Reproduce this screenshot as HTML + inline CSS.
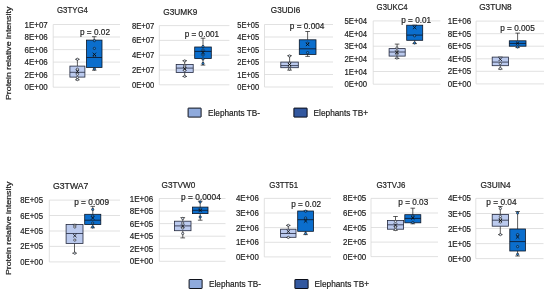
<!DOCTYPE html>
<html><head><meta charset="utf-8"><title>Protein relative intensity</title>
<style>
html,body{margin:0;padding:0;background:#fff;}
svg{display:block;font-family:"Liberation Sans",sans-serif;fill:#1c1c1c;}
text{stroke:#1c1c1c;stroke-width:0.2px;}
</style></head>
<body>
<svg width="550" height="294" viewBox="0 0 550 294">
<rect width="550" height="294" fill="#fff"/>
<g>
<text x="24.6" y="27.5" font-size="8.9" textLength="23.2" lengthAdjust="spacingAndGlyphs" text-anchor="start">1E+07</text>
<text x="24.6" y="40.0" font-size="8.9" textLength="23.2" lengthAdjust="spacingAndGlyphs" text-anchor="start">8E+06</text>
<text x="24.6" y="52.6" font-size="8.9" textLength="23.2" lengthAdjust="spacingAndGlyphs" text-anchor="start">6E+06</text>
<text x="24.6" y="65.1" font-size="8.9" textLength="23.2" lengthAdjust="spacingAndGlyphs" text-anchor="start">4E+06</text>
<text x="24.6" y="77.7" font-size="8.9" textLength="23.2" lengthAdjust="spacingAndGlyphs" text-anchor="start">2E+06</text>
<text x="24.6" y="90.2" font-size="8.9" textLength="23.2" lengthAdjust="spacingAndGlyphs" text-anchor="start">0E+00</text>
<path d="M53.2 24.5H120.0M53.2 37.0H120.0M53.2 49.6H120.0M53.2 62.1H120.0M53.2 74.7H120.0M53.2 87.2H120.0M53.2 24.5V87.2" stroke="#d9d9d9" stroke-width="0.8" fill="none"/>
<text x="57.0" y="13.3" font-size="8.9" textLength="30.8" lengthAdjust="spacingAndGlyphs" text-anchor="start">G3TYG4</text>
<g stroke="#23283d" stroke-width="0.8" fill="none">
<path d="M77.4 59.3V66.1M77.4 77.1V79.8M75.1 59.3H79.7M75.1 79.8H79.7" stroke="#1a1a1a" stroke-width="0.7"/>
<rect x="69.9" y="66.1" width="15.0" height="11.0" fill="#bbcaee"/>
<path d="M69.9 72.3H84.9"/>
<circle cx="77.4" cy="59.3" r="1.15" stroke="#101010" stroke-width="0.6" fill="#dfe8f7"/>
<circle cx="77.4" cy="69.2" r="1.15" stroke="#101010" stroke-width="0.6" fill="#dfe8f7"/>
<circle cx="77.4" cy="74.3" r="1.15" stroke="#101010" stroke-width="0.6" fill="#dfe8f7"/>
<circle cx="77.4" cy="77.5" r="1.15" stroke="#101010" stroke-width="0.6" fill="#dfe8f7"/>
<circle cx="77.4" cy="79.6" r="1.15" stroke="#101010" stroke-width="0.6" fill="#dfe8f7"/>
<path d="M75.7 69.8L79.1 73.2M75.7 73.2L79.1 69.8" stroke="#0a0a0a" stroke-width="0.8"/>
</g>
<g stroke="#0c1424" stroke-width="0.8" fill="none">
<path d="M94.2 36.7V40.1M94.2 67.4V70.2M92.0 36.7H96.5M92.0 70.2H96.5" stroke="#1a1a1a" stroke-width="0.7"/>
<rect x="86.5" y="40.1" width="15.5" height="27.3" fill="#0b6ecd"/>
<path d="M86.5 57.5H102.0"/>
<circle cx="94.4" cy="40.6" r="1.15" stroke="#101010" stroke-width="0.6" fill="#2a86dd"/>
<circle cx="94.4" cy="48.4" r="1.15" stroke="#101010" stroke-width="0.6" fill="#2a86dd"/>
<circle cx="94.4" cy="56.0" r="1.15" stroke="#101010" stroke-width="0.6" fill="#2a86dd"/>
<circle cx="94.4" cy="69.0" r="1.15" stroke="#101010" stroke-width="0.6" fill="#2a86dd"/>
<path d="M92.7 52.7L96.1 56.1M92.7 56.1L96.1 52.7" stroke="#0a0a0a" stroke-width="0.8"/>
</g>
<text x="80.0" y="34.5" font-size="9.2" textLength="30.0" lengthAdjust="spacingAndGlyphs" text-anchor="start">p = 0.02</text>
</g>
<g>
<text x="132.0" y="28.6" font-size="8.9" textLength="22.3" lengthAdjust="spacingAndGlyphs" text-anchor="start">8E+07</text>
<text x="132.0" y="43.4" font-size="8.9" textLength="22.3" lengthAdjust="spacingAndGlyphs" text-anchor="start">6E+07</text>
<text x="132.0" y="58.2" font-size="8.9" textLength="22.3" lengthAdjust="spacingAndGlyphs" text-anchor="start">4E+07</text>
<text x="132.0" y="73.0" font-size="8.9" textLength="22.3" lengthAdjust="spacingAndGlyphs" text-anchor="start">2E+07</text>
<text x="132.0" y="87.8" font-size="8.9" textLength="22.3" lengthAdjust="spacingAndGlyphs" text-anchor="start">0E+00</text>
<path d="M159.3 25.6H229.4M159.3 40.4H229.4M159.3 55.2H229.4M159.3 70.0H229.4M159.3 84.8H229.4M159.3 25.6V84.8" stroke="#d9d9d9" stroke-width="0.8" fill="none"/>
<text x="163.2" y="15.0" font-size="8.9" textLength="34.1" lengthAdjust="spacingAndGlyphs" text-anchor="start">G3UMK9</text>
<g stroke="#23283d" stroke-width="0.8" fill="none">
<path d="M184.7 60.7V64.5M184.7 72.5V76.5M182.4 60.7H187.0M182.4 76.5H187.0" stroke="#1a1a1a" stroke-width="0.7"/>
<rect x="176.2" y="64.5" width="17.0" height="8.0" fill="#bbcaee"/>
<path d="M176.2 68.1H193.2"/>
<circle cx="184.7" cy="60.9" r="1.15" stroke="#101010" stroke-width="0.6" fill="#dfe8f7"/>
<circle cx="184.7" cy="65.5" r="1.15" stroke="#101010" stroke-width="0.6" fill="#dfe8f7"/>
<circle cx="184.7" cy="67.0" r="1.15" stroke="#101010" stroke-width="0.6" fill="#dfe8f7"/>
<circle cx="184.7" cy="70.5" r="1.15" stroke="#101010" stroke-width="0.6" fill="#dfe8f7"/>
<circle cx="184.7" cy="76.3" r="1.15" stroke="#101010" stroke-width="0.6" fill="#dfe8f7"/>
<path d="M183.0 67.1L186.4 70.5M183.0 70.5L186.4 67.1" stroke="#0a0a0a" stroke-width="0.8"/>
</g>
<g stroke="#0c1424" stroke-width="0.8" fill="none">
<path d="M203.0 38.2V47.0M203.0 58.5V65.1M200.7 38.2H205.3M200.7 65.1H205.3" stroke="#1a1a1a" stroke-width="0.7"/>
<rect x="194.7" y="47.0" width="16.6" height="11.5" fill="#0b6ecd"/>
<path d="M194.7 51.4H211.3"/>
<circle cx="203.0" cy="46.5" r="1.15" stroke="#101010" stroke-width="0.6" fill="#2a86dd"/>
<circle cx="203.0" cy="50.0" r="1.15" stroke="#101010" stroke-width="0.6" fill="#2a86dd"/>
<circle cx="203.0" cy="55.0" r="1.15" stroke="#101010" stroke-width="0.6" fill="#2a86dd"/>
<circle cx="203.0" cy="59.0" r="1.15" stroke="#101010" stroke-width="0.6" fill="#2a86dd"/>
<circle cx="203.0" cy="63.5" r="1.15" stroke="#101010" stroke-width="0.6" fill="#2a86dd"/>
<path d="M201.3 50.8L204.7 54.2M201.3 54.2L204.7 50.8" stroke="#0a0a0a" stroke-width="0.8"/>
</g>
<text x="184.8" y="37.0" font-size="9.2" textLength="34.2" lengthAdjust="spacingAndGlyphs" text-anchor="start">p = 0.001</text>
</g>
<g>
<text x="237.3" y="27.5" font-size="8.9" textLength="21.8" lengthAdjust="spacingAndGlyphs" text-anchor="start">5E+05</text>
<text x="237.3" y="40.0" font-size="8.9" textLength="21.8" lengthAdjust="spacingAndGlyphs" text-anchor="start">4E+05</text>
<text x="237.3" y="52.5" font-size="8.9" textLength="21.8" lengthAdjust="spacingAndGlyphs" text-anchor="start">3E+05</text>
<text x="237.3" y="65.0" font-size="8.9" textLength="21.8" lengthAdjust="spacingAndGlyphs" text-anchor="start">2E+05</text>
<text x="237.3" y="77.5" font-size="8.9" textLength="21.8" lengthAdjust="spacingAndGlyphs" text-anchor="start">1E+05</text>
<text x="237.3" y="90.0" font-size="8.9" textLength="21.8" lengthAdjust="spacingAndGlyphs" text-anchor="start">0E+00</text>
<path d="M264.5 24.5H333.0M264.5 37.0H333.0M264.5 49.5H333.0M264.5 62.0H333.0M264.5 74.5H333.0M264.5 87.0H333.0M264.5 24.5V87.0" stroke="#d9d9d9" stroke-width="0.8" fill="none"/>
<text x="270.8" y="13.4" font-size="8.9" textLength="29.5" lengthAdjust="spacingAndGlyphs" text-anchor="start">G3UDI6</text>
<g stroke="#23283d" stroke-width="0.8" fill="none">
<path d="M289.6 55.7V62.1M289.6 67.7V70.1M287.2 55.7H291.9M287.2 70.1H291.9" stroke="#1a1a1a" stroke-width="0.7"/>
<rect x="280.8" y="62.1" width="17.5" height="5.6" fill="#bbcaee"/>
<path d="M280.8 65.6H298.3"/>
<circle cx="289.5" cy="55.9" r="1.15" stroke="#101010" stroke-width="0.6" fill="#dfe8f7"/>
<circle cx="289.5" cy="63.3" r="1.15" stroke="#101010" stroke-width="0.6" fill="#dfe8f7"/>
<circle cx="289.5" cy="66.0" r="1.15" stroke="#101010" stroke-width="0.6" fill="#dfe8f7"/>
<circle cx="289.5" cy="69.0" r="1.15" stroke="#101010" stroke-width="0.6" fill="#dfe8f7"/>
<path d="M287.8 62.8L291.2 66.2M287.8 66.2L291.2 62.8" stroke="#0a0a0a" stroke-width="0.8"/>
</g>
<g stroke="#0c1424" stroke-width="0.8" fill="none">
<path d="M307.6 31.5V39.8M307.6 54.4V56.4M305.3 31.5H309.9M305.3 56.4H309.9" stroke="#1a1a1a" stroke-width="0.7"/>
<rect x="299.3" y="39.8" width="16.7" height="14.6" fill="#0b6ecd"/>
<path d="M299.3 48.8H316.0"/>
<circle cx="307.6" cy="43.2" r="1.15" stroke="#101010" stroke-width="0.6" fill="#2a86dd"/>
<circle cx="307.6" cy="52.6" r="1.15" stroke="#101010" stroke-width="0.6" fill="#2a86dd"/>
<path d="M305.9 42.7L309.3 46.1M305.9 46.1L309.3 42.7" stroke="#0a0a0a" stroke-width="0.8"/>
</g>
<text x="289.8" y="29.2" font-size="9.2" textLength="34.6" lengthAdjust="spacingAndGlyphs" text-anchor="start">p = 0.004</text>
</g>
<g>
<text x="344.6" y="23.9" font-size="8.9" textLength="22.4" lengthAdjust="spacingAndGlyphs" text-anchor="start">5E+04</text>
<text x="344.6" y="36.6" font-size="8.9" textLength="22.4" lengthAdjust="spacingAndGlyphs" text-anchor="start">4E+04</text>
<text x="344.6" y="49.2" font-size="8.9" textLength="22.4" lengthAdjust="spacingAndGlyphs" text-anchor="start">3E+04</text>
<text x="344.6" y="61.9" font-size="8.9" textLength="22.4" lengthAdjust="spacingAndGlyphs" text-anchor="start">2E+04</text>
<text x="344.6" y="74.5" font-size="8.9" textLength="22.4" lengthAdjust="spacingAndGlyphs" text-anchor="start">1E+04</text>
<text x="344.6" y="87.2" font-size="8.9" textLength="22.4" lengthAdjust="spacingAndGlyphs" text-anchor="start">0E+00</text>
<path d="M373.2 20.9H440.4M373.2 33.6H440.4M373.2 46.2H440.4M373.2 58.9H440.4M373.2 71.5H440.4M373.2 84.2H440.4M373.2 20.9V84.2" stroke="#d9d9d9" stroke-width="0.8" fill="none"/>
<text x="376.6" y="10.4" font-size="8.9" textLength="31.1" lengthAdjust="spacingAndGlyphs" text-anchor="start">G3UKC4</text>
<g stroke="#23283d" stroke-width="0.8" fill="none">
<path d="M397.1 44.1V48.6M397.1 56.1V58.5M394.8 44.1H399.4M394.8 58.5H399.4" stroke="#1a1a1a" stroke-width="0.7"/>
<rect x="389.1" y="48.6" width="16.1" height="7.5" fill="#bbcaee"/>
<path d="M389.1 52.0H405.2"/>
<circle cx="396.9" cy="48.0" r="1.15" stroke="#101010" stroke-width="0.6" fill="#dfe8f7"/>
<circle cx="396.9" cy="51.0" r="1.15" stroke="#101010" stroke-width="0.6" fill="#dfe8f7"/>
<circle cx="396.9" cy="54.0" r="1.15" stroke="#101010" stroke-width="0.6" fill="#dfe8f7"/>
<circle cx="396.9" cy="58.0" r="1.15" stroke="#101010" stroke-width="0.6" fill="#dfe8f7"/>
<path d="M395.2 50.7L398.6 54.1M395.2 54.1L398.6 50.7" stroke="#0a0a0a" stroke-width="0.8"/>
</g>
<g stroke="#0c1424" stroke-width="0.8" fill="none">
<path d="M414.7 25.2V25.2M414.7 40.3V43.6M412.4 25.2H417.0M412.4 43.6H417.0" stroke="#1a1a1a" stroke-width="0.7"/>
<rect x="406.7" y="25.2" width="16.0" height="15.1" fill="#0b6ecd"/>
<path d="M406.7 35.1H422.7"/>
<circle cx="414.6" cy="35.8" r="1.15" stroke="#101010" stroke-width="0.6" fill="#2a86dd"/>
<circle cx="414.6" cy="43.0" r="1.15" stroke="#101010" stroke-width="0.6" fill="#2a86dd"/>
<path d="M412.9 25.8L416.3 29.2M412.9 29.2L416.3 25.8" stroke="#0a0a0a" stroke-width="0.8"/>
</g>
<text x="401.3" y="23.4" font-size="9.2" textLength="29.8" lengthAdjust="spacingAndGlyphs" text-anchor="start">p = 0.01</text>
</g>
<g>
<text x="447.8" y="24.1" font-size="8.9" textLength="23.3" lengthAdjust="spacingAndGlyphs" text-anchor="start">1E+06</text>
<text x="447.8" y="36.7" font-size="8.9" textLength="23.3" lengthAdjust="spacingAndGlyphs" text-anchor="start">8E+05</text>
<text x="447.8" y="49.2" font-size="8.9" textLength="23.3" lengthAdjust="spacingAndGlyphs" text-anchor="start">6E+05</text>
<text x="447.8" y="61.8" font-size="8.9" textLength="23.3" lengthAdjust="spacingAndGlyphs" text-anchor="start">4E+05</text>
<text x="447.8" y="74.3" font-size="8.9" textLength="23.3" lengthAdjust="spacingAndGlyphs" text-anchor="start">2E+05</text>
<text x="447.8" y="86.9" font-size="8.9" textLength="23.3" lengthAdjust="spacingAndGlyphs" text-anchor="start">0E+00</text>
<path d="M476.1 21.1H544.0M476.1 33.7H544.0M476.1 46.2H544.0M476.1 58.8H544.0M476.1 71.3H544.0M476.1 83.9H544.0M476.1 21.1V83.9" stroke="#d9d9d9" stroke-width="0.8" fill="none"/>
<text x="479.2" y="10.4" font-size="8.9" textLength="32.5" lengthAdjust="spacingAndGlyphs" text-anchor="start">G3TUN8</text>
<g stroke="#23283d" stroke-width="0.8" fill="none">
<path d="M500.3 57.1V57.1M500.3 65.7V69.1M498.0 57.1H502.6M498.0 69.1H502.6" stroke="#1a1a1a" stroke-width="0.7"/>
<rect x="492.2" y="57.1" width="16.2" height="8.6" fill="#bbcaee"/>
<path d="M492.2 62.1H508.4"/>
<circle cx="500.3" cy="63.5" r="1.15" stroke="#101010" stroke-width="0.6" fill="#dfe8f7"/>
<circle cx="500.3" cy="68.5" r="1.15" stroke="#101010" stroke-width="0.6" fill="#dfe8f7"/>
<path d="M498.6 57.6L502.0 61.0M498.6 61.0L502.0 57.6" stroke="#0a0a0a" stroke-width="0.8"/>
</g>
<g stroke="#0c1424" stroke-width="0.8" fill="none">
<path d="M517.6 33.1V40.8M517.6 46.2V47.6M515.4 33.1H519.9M515.4 47.6H519.9" stroke="#1a1a1a" stroke-width="0.7"/>
<rect x="509.3" y="40.8" width="16.7" height="5.4" fill="#0b6ecd"/>
<path d="M509.3 43.4H526.0"/>
<circle cx="517.6" cy="47.0" r="1.15" stroke="#101010" stroke-width="0.6" fill="#2a86dd"/>
<path d="M515.9 41.5L519.3 44.9M515.9 44.9L519.3 41.5" stroke="#0a0a0a" stroke-width="0.8"/>
</g>
<text x="500.2" y="30.9" font-size="9.2" textLength="34.6" lengthAdjust="spacingAndGlyphs" text-anchor="start">p = 0.005</text>
</g>
<g>
<text x="20.3" y="203.1" font-size="8.9" textLength="22.7" lengthAdjust="spacingAndGlyphs" text-anchor="start">8E+05</text>
<text x="20.3" y="218.5" font-size="8.9" textLength="22.7" lengthAdjust="spacingAndGlyphs" text-anchor="start">6E+05</text>
<text x="20.3" y="234.0" font-size="8.9" textLength="22.7" lengthAdjust="spacingAndGlyphs" text-anchor="start">4E+05</text>
<text x="20.3" y="249.4" font-size="8.9" textLength="22.7" lengthAdjust="spacingAndGlyphs" text-anchor="start">2E+05</text>
<text x="20.3" y="264.9" font-size="8.9" textLength="22.7" lengthAdjust="spacingAndGlyphs" text-anchor="start">0E+00</text>
<path d="M49.3 200.1H120.0M49.3 215.5H120.0M49.3 231.0H120.0M49.3 246.4H120.0M49.3 261.9H120.0M49.3 200.1V261.9" stroke="#d9d9d9" stroke-width="0.8" fill="none"/>
<text x="53.0" y="188.7" font-size="8.9" textLength="35.4" lengthAdjust="spacingAndGlyphs" text-anchor="start">G3TWA7</text>
<g stroke="#23283d" stroke-width="0.8" fill="none">
<path d="M74.5 224.4V224.4M74.5 243.4V253.2M72.2 224.4H76.8M72.2 253.2H76.8" stroke="#1a1a1a" stroke-width="0.7"/>
<rect x="66.1" y="224.4" width="16.9" height="19.0" fill="#bbcaee"/>
<path d="M66.1 233.5H83.0"/>
<circle cx="74.8" cy="225.3" r="1.15" stroke="#101010" stroke-width="0.6" fill="#dfe8f7"/>
<circle cx="74.8" cy="227.0" r="1.15" stroke="#101010" stroke-width="0.6" fill="#dfe8f7"/>
<circle cx="74.8" cy="240.1" r="1.15" stroke="#101010" stroke-width="0.6" fill="#dfe8f7"/>
<circle cx="74.8" cy="253.2" r="1.15" stroke="#101010" stroke-width="0.6" fill="#dfe8f7"/>
<path d="M73.1 234.0L76.5 237.4M73.1 237.4L76.5 234.0" stroke="#0a0a0a" stroke-width="0.8"/>
</g>
<g stroke="#0c1424" stroke-width="0.8" fill="none">
<path d="M92.8 206.4V214.3M92.8 224.5V227.8M90.5 206.4H95.0M90.5 227.8H95.0" stroke="#1a1a1a" stroke-width="0.7"/>
<rect x="84.7" y="214.3" width="16.1" height="10.2" fill="#0b6ecd"/>
<path d="M84.7 220.2H100.8"/>
<circle cx="92.7" cy="209.5" r="1.15" stroke="#101010" stroke-width="0.6" fill="#2a86dd"/>
<circle cx="92.7" cy="216.0" r="1.15" stroke="#101010" stroke-width="0.6" fill="#2a86dd"/>
<circle cx="92.7" cy="223.0" r="1.15" stroke="#101010" stroke-width="0.6" fill="#2a86dd"/>
<circle cx="92.7" cy="227.0" r="1.15" stroke="#101010" stroke-width="0.6" fill="#2a86dd"/>
<path d="M91.0 216.3L94.4 219.7M91.0 219.7L94.4 216.3" stroke="#0a0a0a" stroke-width="0.8"/>
</g>
<text x="74.2" y="205.4" font-size="9.2" textLength="34.9" lengthAdjust="spacingAndGlyphs" text-anchor="start">p = 0.009</text>
</g>
<g>
<text x="129.8" y="201.5" font-size="8.9" textLength="23.4" lengthAdjust="spacingAndGlyphs" text-anchor="start">1E+06</text>
<text x="129.8" y="214.1" font-size="8.9" textLength="23.4" lengthAdjust="spacingAndGlyphs" text-anchor="start">8E+05</text>
<text x="129.8" y="226.6" font-size="8.9" textLength="23.4" lengthAdjust="spacingAndGlyphs" text-anchor="start">6E+05</text>
<text x="129.8" y="239.2" font-size="8.9" textLength="23.4" lengthAdjust="spacingAndGlyphs" text-anchor="start">4E+05</text>
<text x="129.8" y="251.7" font-size="8.9" textLength="23.4" lengthAdjust="spacingAndGlyphs" text-anchor="start">2E+05</text>
<text x="129.8" y="264.3" font-size="8.9" textLength="23.4" lengthAdjust="spacingAndGlyphs" text-anchor="start">0E+00</text>
<path d="M159.3 198.5H225.5M159.3 211.1H225.5M159.3 223.6H225.5M159.3 236.2H225.5M159.3 248.7H225.5M159.3 261.3H225.5M159.3 198.5V261.3" stroke="#d9d9d9" stroke-width="0.8" fill="none"/>
<text x="161.5" y="187.8" font-size="8.9" textLength="33.8" lengthAdjust="spacingAndGlyphs" text-anchor="start">G3TVW0</text>
<g stroke="#23283d" stroke-width="0.8" fill="none">
<path d="M182.8 217.6V221.2M182.8 230.7V237.9M180.4 217.6H185.1M180.4 237.9H185.1" stroke="#1a1a1a" stroke-width="0.7"/>
<rect x="174.5" y="221.2" width="16.5" height="9.5" fill="#bbcaee"/>
<path d="M174.5 225.9H191.0"/>
<circle cx="182.7" cy="218.5" r="1.15" stroke="#101010" stroke-width="0.6" fill="#dfe8f7"/>
<circle cx="182.7" cy="223.0" r="1.15" stroke="#101010" stroke-width="0.6" fill="#dfe8f7"/>
<circle cx="182.7" cy="228.0" r="1.15" stroke="#101010" stroke-width="0.6" fill="#dfe8f7"/>
<circle cx="182.7" cy="233.5" r="1.15" stroke="#101010" stroke-width="0.6" fill="#dfe8f7"/>
<path d="M181.0 224.3L184.4 227.7M181.0 227.7L184.4 224.3" stroke="#0a0a0a" stroke-width="0.8"/>
</g>
<g stroke="#0c1424" stroke-width="0.8" fill="none">
<path d="M200.2 201.2V207.1M200.2 213.6V220.2M197.9 201.2H202.5M197.9 220.2H202.5" stroke="#1a1a1a" stroke-width="0.7"/>
<rect x="192.4" y="207.1" width="15.6" height="6.5" fill="#0b6ecd"/>
<path d="M192.4 210.3H208.0"/>
<circle cx="200.2" cy="202.0" r="1.15" stroke="#101010" stroke-width="0.6" fill="#2a86dd"/>
<circle cx="200.2" cy="209.0" r="1.15" stroke="#101010" stroke-width="0.6" fill="#2a86dd"/>
<circle cx="200.2" cy="217.0" r="1.15" stroke="#101010" stroke-width="0.6" fill="#2a86dd"/>
<path d="M198.5 208.8L201.9 212.2M198.5 212.2L201.9 208.8" stroke="#0a0a0a" stroke-width="0.8"/>
</g>
<text x="181.1" y="200.0" font-size="9.2" textLength="39.7" lengthAdjust="spacingAndGlyphs" text-anchor="start">p = 0.0004</text>
</g>
<g>
<text x="235.9" y="201.4" font-size="8.9" textLength="22.9" lengthAdjust="spacingAndGlyphs" text-anchor="start">4E+06</text>
<text x="235.9" y="216.0" font-size="8.9" textLength="22.9" lengthAdjust="spacingAndGlyphs" text-anchor="start">3E+06</text>
<text x="235.9" y="230.6" font-size="8.9" textLength="22.9" lengthAdjust="spacingAndGlyphs" text-anchor="start">2E+06</text>
<text x="235.9" y="245.3" font-size="8.9" textLength="22.9" lengthAdjust="spacingAndGlyphs" text-anchor="start">1E+06</text>
<text x="235.9" y="259.9" font-size="8.9" textLength="22.9" lengthAdjust="spacingAndGlyphs" text-anchor="start">0E+00</text>
<path d="M264.3 198.4H331.0M264.3 213.0H331.0M264.3 227.6H331.0M264.3 242.3H331.0M264.3 256.9H331.0M264.3 198.4V256.9" stroke="#d9d9d9" stroke-width="0.8" fill="none"/>
<text x="269.3" y="187.8" font-size="8.9" textLength="28.8" lengthAdjust="spacingAndGlyphs" text-anchor="start">G3TT51</text>
<g stroke="#23283d" stroke-width="0.8" fill="none">
<path d="M288.3 225.4V229.2M288.3 237.3V237.5M286.0 225.4H290.6M286.0 237.5H290.6" stroke="#1a1a1a" stroke-width="0.7"/>
<rect x="280.6" y="229.2" width="15.4" height="8.1" fill="#bbcaee"/>
<path d="M280.6 233.5H296.0"/>
<circle cx="288.3" cy="225.4" r="1.15" stroke="#101010" stroke-width="0.6" fill="#dfe8f7"/>
<circle cx="288.3" cy="237.4" r="1.15" stroke="#101010" stroke-width="0.6" fill="#dfe8f7"/>
<path d="M286.6 229.8L290.0 233.2M286.6 233.2L290.0 229.8" stroke="#0a0a0a" stroke-width="0.8"/>
</g>
<g stroke="#0c1424" stroke-width="0.8" fill="none">
<path d="M305.6 211.0V211.0M305.6 231.3V234.6M303.3 211.0H307.9M303.3 234.6H307.9" stroke="#1a1a1a" stroke-width="0.7"/>
<rect x="297.7" y="211.0" width="15.8" height="20.3" fill="#0b6ecd"/>
<path d="M297.7 219.7H313.5"/>
<circle cx="305.6" cy="211.2" r="1.15" stroke="#101010" stroke-width="0.6" fill="#2a86dd"/>
<circle cx="305.6" cy="218.0" r="1.15" stroke="#101010" stroke-width="0.6" fill="#2a86dd"/>
<circle cx="305.6" cy="233.5" r="1.15" stroke="#101010" stroke-width="0.6" fill="#2a86dd"/>
<path d="M303.9 219.3L307.3 222.7M303.9 222.7L307.3 219.3" stroke="#0a0a0a" stroke-width="0.8"/>
</g>
<text x="291.2" y="207.2" font-size="9.2" textLength="29.8" lengthAdjust="spacingAndGlyphs" text-anchor="start">p = 0.02</text>
</g>
<g>
<text x="343.1" y="201.4" font-size="8.9" textLength="23.1" lengthAdjust="spacingAndGlyphs" text-anchor="start">8E+05</text>
<text x="343.1" y="216.0" font-size="8.9" textLength="23.1" lengthAdjust="spacingAndGlyphs" text-anchor="start">6E+05</text>
<text x="343.1" y="230.5" font-size="8.9" textLength="23.1" lengthAdjust="spacingAndGlyphs" text-anchor="start">4E+05</text>
<text x="343.1" y="245.1" font-size="8.9" textLength="23.1" lengthAdjust="spacingAndGlyphs" text-anchor="start">2E+05</text>
<text x="343.1" y="259.6" font-size="8.9" textLength="23.1" lengthAdjust="spacingAndGlyphs" text-anchor="start">0E+00</text>
<path d="M371.0 198.4H438.0M371.0 213.0H438.0M371.0 227.5H438.0M371.0 242.1H438.0M371.0 256.6H438.0M371.0 198.4V256.6" stroke="#d9d9d9" stroke-width="0.8" fill="none"/>
<text x="376.5" y="187.8" font-size="8.9" textLength="28.8" lengthAdjust="spacingAndGlyphs" text-anchor="start">G3TVJ6</text>
<g stroke="#23283d" stroke-width="0.8" fill="none">
<path d="M395.5 216.5V220.4M395.5 229.2V230.3M393.2 216.5H397.8M393.2 230.3H397.8" stroke="#1a1a1a" stroke-width="0.7"/>
<rect x="387.4" y="220.4" width="16.2" height="8.8" fill="#bbcaee"/>
<path d="M387.4 224.8H403.6"/>
<circle cx="395.5" cy="221.5" r="1.15" stroke="#101010" stroke-width="0.6" fill="#dfe8f7"/>
<circle cx="395.5" cy="227.0" r="1.15" stroke="#101010" stroke-width="0.6" fill="#dfe8f7"/>
<circle cx="395.5" cy="229.5" r="1.15" stroke="#101010" stroke-width="0.6" fill="#dfe8f7"/>
<path d="M393.8 223.3L397.2 226.7M393.8 226.7L397.2 223.3" stroke="#0a0a0a" stroke-width="0.8"/>
</g>
<g stroke="#0c1424" stroke-width="0.8" fill="none">
<path d="M412.8 208.2V214.7M412.8 222.8V223.8M410.5 208.2H415.1M410.5 223.8H415.1" stroke="#1a1a1a" stroke-width="0.7"/>
<rect x="404.8" y="214.7" width="16.0" height="8.1" fill="#0b6ecd"/>
<path d="M404.8 218.4H420.8"/>
<circle cx="412.8" cy="216.0" r="1.15" stroke="#101010" stroke-width="0.6" fill="#2a86dd"/>
<circle cx="412.8" cy="222.5" r="1.15" stroke="#101010" stroke-width="0.6" fill="#2a86dd"/>
<path d="M411.1 216.3L414.5 219.7M411.1 219.7L414.5 216.3" stroke="#0a0a0a" stroke-width="0.8"/>
</g>
<text x="398.3" y="205.0" font-size="9.2" textLength="29.9" lengthAdjust="spacingAndGlyphs" text-anchor="start">p = 0.03</text>
</g>
<g>
<text x="447.9" y="201.4" font-size="8.9" textLength="23.1" lengthAdjust="spacingAndGlyphs" text-anchor="start">4E+05</text>
<text x="447.9" y="216.5" font-size="8.9" textLength="23.1" lengthAdjust="spacingAndGlyphs" text-anchor="start">3E+05</text>
<text x="447.9" y="231.5" font-size="8.9" textLength="23.1" lengthAdjust="spacingAndGlyphs" text-anchor="start">2E+05</text>
<text x="447.9" y="246.6" font-size="8.9" textLength="23.1" lengthAdjust="spacingAndGlyphs" text-anchor="start">1E+05</text>
<text x="447.9" y="261.6" font-size="8.9" textLength="23.1" lengthAdjust="spacingAndGlyphs" text-anchor="start">0E+00</text>
<path d="M475.8 198.4H543.5M475.8 213.5H543.5M475.8 228.5H543.5M475.8 243.6H543.5M475.8 258.6H543.5M475.8 198.4V258.6" stroke="#d9d9d9" stroke-width="0.8" fill="none"/>
<text x="480.6" y="187.8" font-size="8.9" textLength="30.1" lengthAdjust="spacingAndGlyphs" text-anchor="start">G3UIN4</text>
<g stroke="#23283d" stroke-width="0.8" fill="none">
<path d="M500.3 206.5V214.4M500.3 226.2V234.6M498.0 206.5H502.6M498.0 234.6H502.6" stroke="#1a1a1a" stroke-width="0.7"/>
<rect x="492.2" y="214.4" width="16.2" height="11.8" fill="#bbcaee"/>
<path d="M492.2 220.2H508.4"/>
<circle cx="500.4" cy="208.5" r="1.15" stroke="#101010" stroke-width="0.6" fill="#dfe8f7"/>
<circle cx="500.4" cy="216.5" r="1.15" stroke="#101010" stroke-width="0.6" fill="#dfe8f7"/>
<circle cx="500.4" cy="219.0" r="1.15" stroke="#101010" stroke-width="0.6" fill="#dfe8f7"/>
<circle cx="500.4" cy="222.0" r="1.15" stroke="#101010" stroke-width="0.6" fill="#dfe8f7"/>
<circle cx="500.4" cy="234.6" r="1.15" stroke="#101010" stroke-width="0.6" fill="#dfe8f7"/>
<path d="M498.7 218.8L502.1 222.2M498.7 222.2L502.1 218.8" stroke="#0a0a0a" stroke-width="0.8"/>
</g>
<g stroke="#0c1424" stroke-width="0.8" fill="none">
<path d="M517.6 211.5V229.0M517.6 251.0V256.0M515.3 211.5H519.9M515.3 256.0H519.9" stroke="#1a1a1a" stroke-width="0.7"/>
<rect x="509.8" y="229.0" width="15.6" height="22.0" fill="#0b6ecd"/>
<path d="M509.8 241.6H525.4"/>
<circle cx="517.6" cy="213.0" r="1.15" stroke="#101010" stroke-width="0.6" fill="#2a86dd"/>
<circle cx="517.6" cy="234.6" r="1.15" stroke="#101010" stroke-width="0.6" fill="#2a86dd"/>
<circle cx="517.6" cy="246.6" r="1.15" stroke="#101010" stroke-width="0.6" fill="#2a86dd"/>
<circle cx="517.6" cy="254.3" r="1.15" stroke="#101010" stroke-width="0.6" fill="#2a86dd"/>
<path d="M515.9 235.3L519.3 238.7M515.9 238.7L519.3 235.3" stroke="#0a0a0a" stroke-width="0.8"/>
</g>
<text x="486.3" y="204.8" font-size="9.2" textLength="30.3" lengthAdjust="spacingAndGlyphs" text-anchor="start">p = 0.04</text>
</g>
<text transform="translate(11.3,100.0) rotate(-90)" font-size="6.4" textLength="93.3" lengthAdjust="spacingAndGlyphs">Protein relative intensity</text>
<text transform="translate(10.8,275.1) rotate(-90)" font-size="6.4" textLength="93.4" lengthAdjust="spacingAndGlyphs">Protein relative intensity</text>
<rect x="188.1" y="108.1" width="13" height="9" rx="0.3" fill="#8faadc" stroke="#10131c" stroke-width="1"/>
<text x="208.0" y="115.8" font-size="9.1" textLength="52.0" lengthAdjust="spacingAndGlyphs" text-anchor="start">Elephants TB-</text>
<rect x="293.9" y="108.1" width="13.2" height="9" rx="0.3" fill="#33589f" stroke="#0a0d18" stroke-width="1"/>
<text x="313.6" y="115.8" font-size="9.1" textLength="54.4" lengthAdjust="spacingAndGlyphs" text-anchor="start">Elephants TB+</text>
<rect x="189.1" y="279.5" width="13" height="9" rx="0.3" fill="#8faadc" stroke="#10131c" stroke-width="1"/>
<text x="209.0" y="287.2" font-size="9.1" textLength="52.0" lengthAdjust="spacingAndGlyphs" text-anchor="start">Elephants TB-</text>
<rect x="294.9" y="279.5" width="13.2" height="9" rx="0.3" fill="#33589f" stroke="#0a0d18" stroke-width="1"/>
<text x="314.6" y="287.2" font-size="9.1" textLength="54.4" lengthAdjust="spacingAndGlyphs" text-anchor="start">Elephants TB+</text>
</svg>
</body></html>
